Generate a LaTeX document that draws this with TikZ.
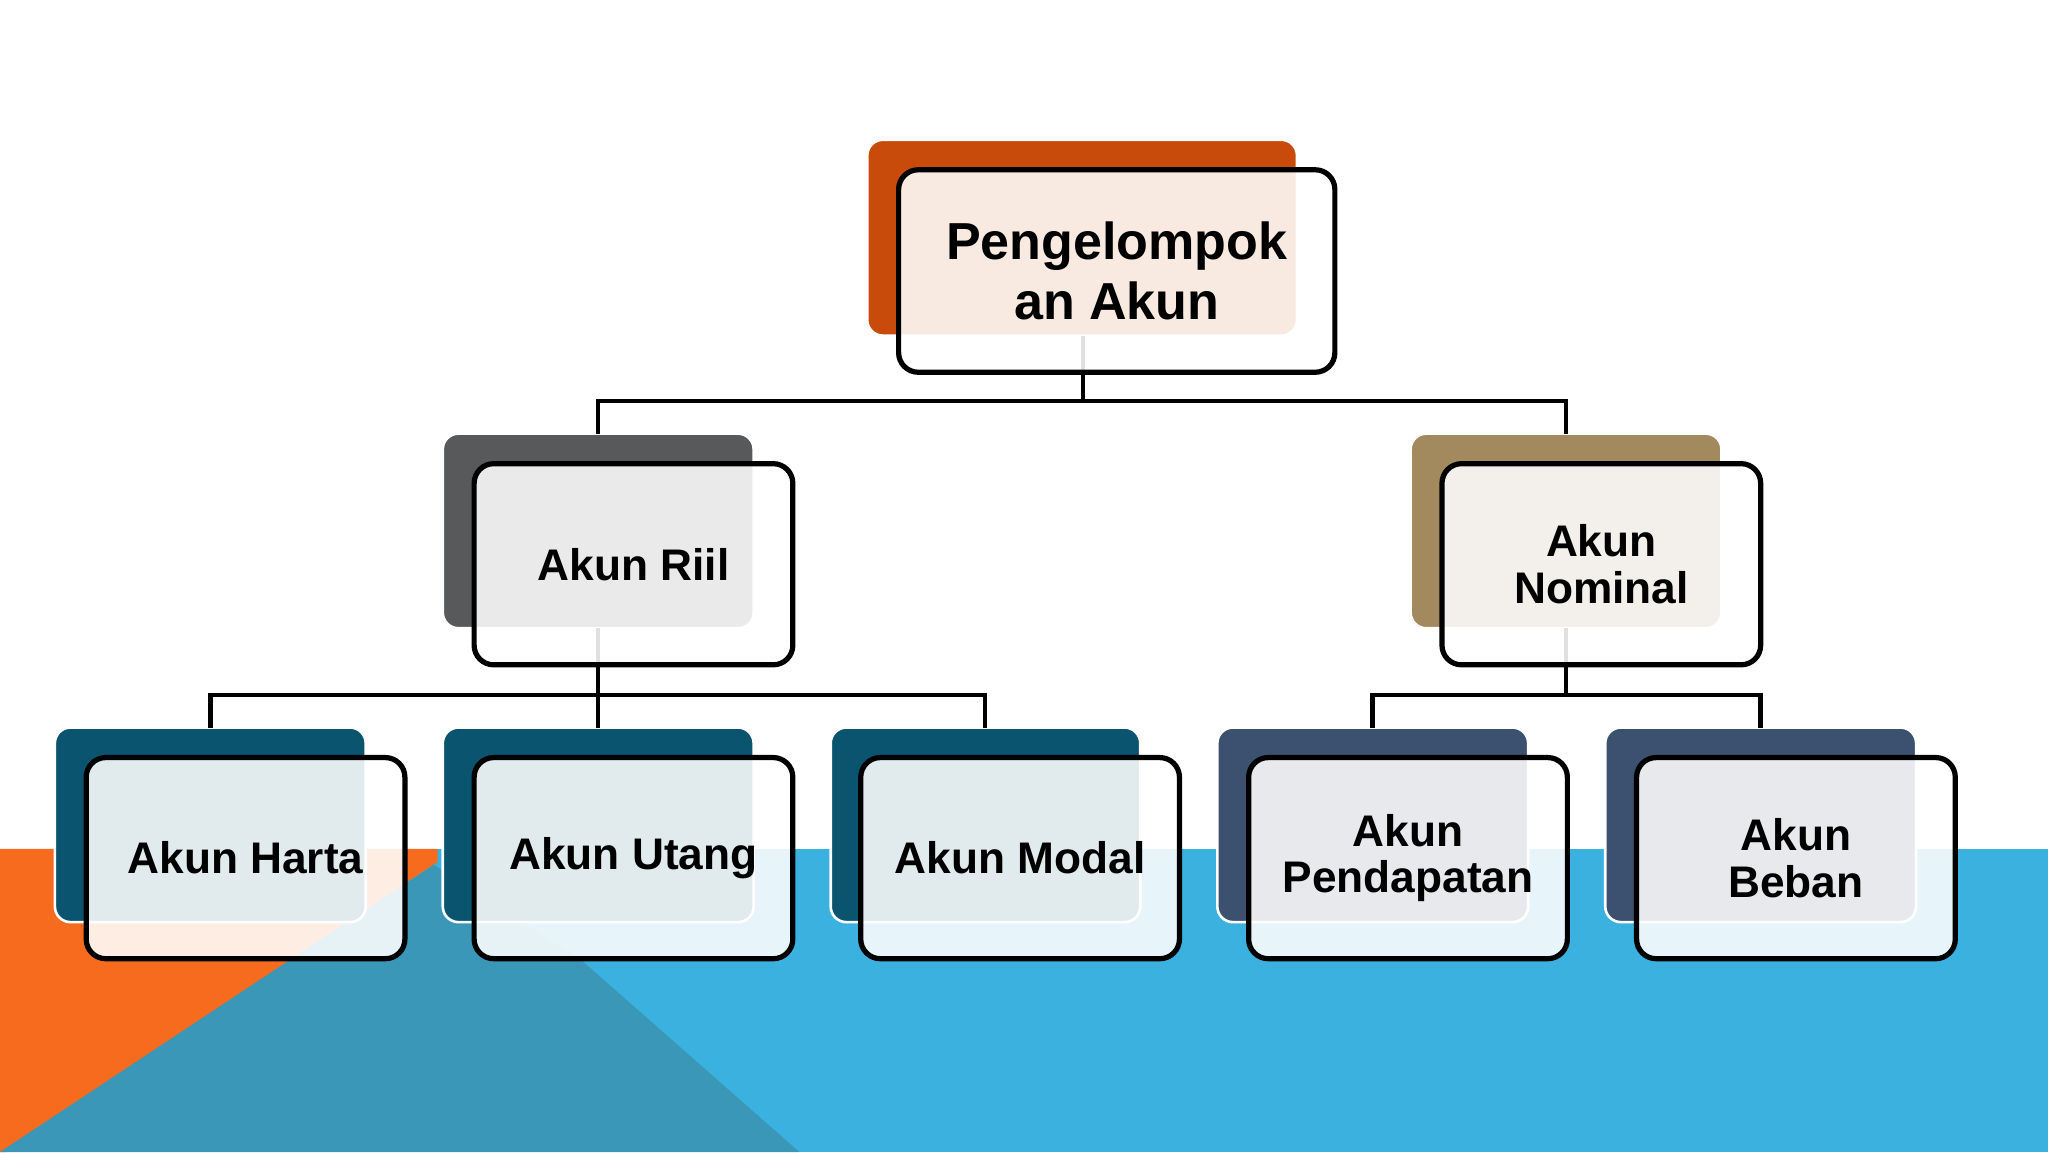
\documentclass[tikz,border=0pt]{standalone}
\usepackage{fontspec}
\setmainfont{Liberation Sans}
\begin{document}
\begin{tikzpicture}[x=1bp,y=-1bp,
  backbox/.style={draw=white,line width=2bp,rounded corners=12bp},
  frontbox/.style={draw=black,line width=4bp,rounded corners=15bp,fill=white,fill opacity=0.88,text opacity=1,font=\bfseries\fontsize{34}{36}\selectfont,align=center},
  link/.style={draw=black,line width=3.5bp}]
\useasboundingbox (0,0) rectangle (1568,882);
\fill[white] (0,0) rectangle (1568,882);
\definecolor{bblue}{HTML}{3BB1E0}
\definecolor{borange}{HTML}{F76B1F}
\definecolor{bteal}{HTML}{3A97B8}
\fill[bblue] (330,650) rectangle (1568,882);
\fill[borange] (0,650) -- (335,650) -- (335,660) -- (5,882) -- (0,882) -- cycle;
\fill[bteal] (0,882) -- (332,662) -- (445,735) -- (612,882) -- cycle;
% back boxes
\definecolor{cRoot}{HTML}{C84B0C}
\definecolor{cGray}{HTML}{58595B}
\definecolor{cTan}{HTML}{A38A5E}
\definecolor{cTeal}{HTML}{0A5470}
\definecolor{cNavy}{HTML}{3C5070}
\path[backbox,fill=cRoot] (664,107) rectangle (993,257); \coordinate (rootb) at (829,257);
\path[backbox,fill=cGray] (339,332) rectangle (577,481);
\path[backbox,fill=cTan] (1080,332) rectangle (1318,481);
\path[backbox,fill=cTeal] (42,557) rectangle (280,706);
\path[backbox,fill=cTeal] (339,557) rectangle (577,706);
\path[backbox,fill=cTeal] (636,557) rectangle (873,706);
\path[backbox,fill=cNavy] (932,557) rectangle (1170,706);
\path[backbox,fill=cNavy] (1229,557) rectangle (1467,706);
\coordinate (riilT) at (458,332); \coordinate (riilB) at (458,481);
\coordinate (nomT) at (1199,332); \coordinate (nomB) at (1199,481);
\coordinate (hT) at (161,557); \coordinate (uT) at (458,557); \coordinate (mT) at (754,557);
\coordinate (pT) at (1051,557); \coordinate (bT) at (1348,557);
% connectors
\draw[link] (rootb) -- ++(0,50) -| (riilT);
\draw[link] (rootb) ++(0,50) -| (nomT);
\draw[link] (riilB) -- ++(0,51) -| (hT);
\draw[link] (riilB) ++(0,51) -| (mT);
\draw[link] (riilB) -- (uT);
\draw[link] (nomB) -- ++(0,51) -| (pT);
\draw[link] (nomB) ++(0,51) -| (bT);
% front boxes
\node[frontbox,minimum width=334bp,minimum height=155bp,font=\bfseries\fontsize{40}{46}\selectfont] (root) at (855,207.5) {Pengelompok\\an Akun};
\node[frontbox,minimum width=244bp,minimum height=154bp] (riil) at (485,432) {Akun Riil};
\node[frontbox,minimum width=244bp,minimum height=154bp] (nom) at (1226,432) {Akun\\Nominal};
\node[frontbox,minimum width=244bp,minimum height=154bp] (harta) at (188,657) {Akun Harta};
\node[frontbox,minimum width=244bp,minimum height=154bp] (utang) at (485,657) {Akun Utang};
\node[frontbox,minimum width=244bp,minimum height=154bp] (modal) at (781,657) {Akun Modal};
\node[frontbox,minimum width=244bp,minimum height=154bp] (pend) at (1078,657) {Akun\\Pendapatan};
\node[frontbox,minimum width=244bp,minimum height=154bp] (beban) at (1375,657) {Akun\\Beban};
\end{tikzpicture}
\end{document}
